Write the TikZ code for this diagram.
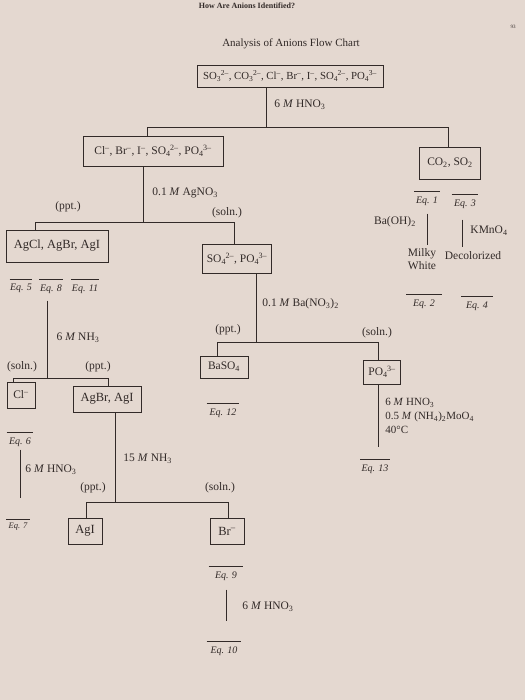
\documentclass[tikz,border=0pt]{standalone}
\usepackage{fontspec}
\setmainfont{Liberation Serif}
\usepackage{xcolor}
\definecolor{paper}{RGB}{228,216,208}
\definecolor{ink}{RGB}{50,42,40}
\usepackage{tikz}
\usetikzlibrary{positioning,calc}
% ion with sub- and superscript
\newcommand{\ion}[3]{#1\textsubscript{#2}\kern-.5pt\textsuperscript{#3}}
\newcommand{\anion}[1]{#1\textsuperscript{--}}

\begin{document}
\begin{tikzpicture}[x=1pt,y=-1pt,ink,line width=.9pt,
  box/.style={draw,font=\fontsize{11.5}{13}\selectfont,inner sep=1pt},
  lbl/.style={font=\fontsize{11.5}{13.5}\selectfont,inner sep=0pt},
  eqn/.style={anchor=north,font=\fontsize{10}{12}\selectfont\itshape,inner xsep=0pt,inner ysep=5pt}]
\useasboundingbox[fill=paper] (0,0) rectangle (525,700);

\node[font=\fontsize{8}{9}\selectfont\bfseries] (head) at (247,6) {How Are Anions Identified?};
\node[font=\fontsize{5}{6}\selectfont] (page) at (513,27) {93};
\node[font=\fontsize{11}{13}\selectfont] (title) at (291,44) {Analysis of Anions Flow Chart};

% boxes
\node[box,minimum width=186pt,minimum height=22pt,font=\fontsize{10.8}{13}\selectfont] (top) at (290,76)
  {\ion{SO}{3}{2--}, \ion{CO}{3}{2--}, \anion{Cl}, \anion{Br}, \anion{I}, \ion{SO}{4}{2--}, \ion{PO}{4}{3--}};
\node[box,minimum width=140pt,minimum height=30pt] (grp) at (153,151)
  {\anion{Cl}, \anion{Br}, \anion{I}, \ion{SO}{4}{2--}, \ion{PO}{4}{3--}};
\node[box,minimum width=61pt,minimum height=32pt] (gas) at (450,163) {CO\textsubscript{2}, SO\textsubscript{2}};
\node[box,minimum width=102pt,minimum height=32pt,font=\fontsize{12.5}{14}\selectfont] (agx) at (57,246) {AgCl, AgBr, AgI};
\node[box,minimum width=69pt,minimum height=29pt] (sp) at (237,259) {\ion{SO}{4}{2--}, \ion{PO}{4}{3--}};
\node[box,minimum width=28pt,minimum height=26pt] (cl) at (21,395) {\anion{Cl}};
\node[box,minimum width=68pt,minimum height=26pt,font=\fontsize{12.5}{14}\selectfont] (agbri) at (107,399) {AgBr, AgI};
\node[box,minimum width=34pt,minimum height=26pt,font=\fontsize{12.5}{14}\selectfont] (agi) at (85,531) {AgI};
\node[box,minimum width=34pt,minimum height=26pt,font=\fontsize{12.5}{14}\selectfont] (br) at (227,531) {\anion{Br}};
\node[box,minimum width=48pt,minimum height=22pt] (baso) at (224,367) {BaSO\textsubscript{4}};
\node[box,minimum width=37pt,minimum height=24pt] (po) at (382,372) {\ion{PO}{4}{3--}};

% branch points
\coordinate (j1) at (266,127); \coordinate (j1l) at (147,127); \coordinate (j1r) at (448,127);
\coordinate (j2) at (143,222); \coordinate (j2l) at (35,222);  \coordinate (j2r) at (234,222);
\coordinate (j3) at (47,378);  \coordinate (j3l) at (13,378);  \coordinate (j3r) at (108,378);
\coordinate (j4) at (115,502); \coordinate (j4l) at (86,502);  \coordinate (j4r) at (228,502);
\coordinate (j5) at (256,342); \coordinate (j5l) at (217,342); \coordinate (j5r) at (378,342);

\draw (top.south -| j1) -- (j1);
\draw (j1l |- grp.north) |- (j1r) -- (j1r |- gas.north);
\draw (grp.south -| j2) -- (j2);
\draw (j2l |- agx.north) |- (j2r) -- (j2r |- sp.north);
\draw (j3l |- cl.north) |- (j3r) -- (j3r |- agbri.north);
\draw (agbri.south -| j4) -- (j4);
\draw (j4l |- agi.north) |- (j4r) -- (j4r |- br.north);
\draw (sp.south -| j5) -- (j5);
\draw (j5l |- baso.north) |- (j5r) -- (j5r |- po.north);

% reagents and fractions
\node[lbl,anchor=west] (hno1) at (274,105) {6 \textit{M} HNO\textsubscript{3}};
\node[lbl,anchor=west] (agno) at (152,193) {0.1 \textit{M} AgNO\textsubscript{3}};
\node[lbl] (ppt1) at (68,207) {(ppt.)};
\node[lbl] (soln1) at (227,213) {(soln.)};
\node[lbl,anchor=west] (bano) at (262,304) {0.1 \textit{M} Ba(NO\textsubscript{3})\textsubscript{2}};
\node[lbl] (ppt2) at (228,330) {(ppt.)};
\node[lbl] (soln2) at (377,333) {(soln.)};
\node[lbl] (nh6) at (78,338) {6 \textit{M} NH\textsubscript{3}};
\node[lbl] (soln3) at (22,367) {(soln.)};
\node[lbl] (ppt3) at (98,367) {(ppt.)};
\node[lbl,anchor=west] (hno2) at (25,470) {6 \textit{M} HNO\textsubscript{3}};
\node[lbl,anchor=west] (nh15) at (123,459) {15 \textit{M} NH\textsubscript{3}};
\node[lbl] (ppt4) at (93,488) {(ppt.)};
\node[lbl] (soln4) at (220,488) {(soln.)};
\node[lbl,anchor=west] (hno3) at (242,607) {6 \textit{M} HNO\textsubscript{3}};
\node[lbl,anchor=north west,align=left,font=\fontsize{11}{14}\selectfont] (molyb) at (385,398)
  {6 \textit{M} HNO\textsubscript{3}\\0.5 \textit{M} (NH\textsubscript{4})\textsubscript{2}MoO\textsubscript{4}\\40°C};
\node[lbl] (baoh) at (395,222) {Ba(OH)\textsubscript{2}};
\node[lbl,anchor=west] (kmno) at (470,231) {KMnO\textsubscript{4}};
\node[lbl,align=center] (milky) at (422,259) {Milky\\White};
\node[lbl] (decol) at (473,256) {Decolorized};

% equation references
\node[eqn,minimum width=25pt] (eq1) at (427,191) {Eq. 1};
\node[eqn,minimum width=26pt] (eq3) at (465,194) {Eq. 3};
\node[eqn,minimum width=35pt] (eq2) at (424,294) {Eq. 2};
\node[eqn,minimum width=31pt] (eq4) at (477,296) {Eq. 4};
\node[eqn,minimum width=22pt] (eq5) at (21,279) {Eq. 5};
\node[eqn,minimum width=23pt] (eq8) at (51,279) {Eq. 8};
\node[eqn,minimum width=26pt] (eq11) at (85,279) {Eq. 11};
\node[eqn,minimum width=26pt] (eq6) at (20,432) {Eq. 6};
\node[eqn,minimum width=23pt,font=\fontsize{8.5}{10}\selectfont\itshape,inner ysep=3pt] (eq7) at (18,519) {Eq. 7};
\node[eqn,minimum width=32pt] (eq12) at (223,403) {Eq. 12};
\node[eqn,minimum width=29pt] (eq13) at (375,459) {Eq. 13};
\node[eqn,minimum width=34pt] (eq9) at (226,566) {Eq. 9};
\node[eqn,minimum width=34pt] (eq10) at (224,641) {Eq. 10};
\foreach \e in {eq1,eq3,eq2,eq4,eq5,eq8,eq11,eq6,eq7,eq12,eq13,eq9,eq10}
  \draw (\e.north west) -- (\e.north east);

\draw[shorten <=3pt,shorten >=3pt] (eq1.south) -- (eq1.south |- milky.north);
\draw[shorten <=6pt,shorten >=5pt] ([xshift=-3pt]eq3.south) -- ([xshift=-3pt]eq3.south |- decol.north);
\draw[shorten <=2pt] (eq8.south -| j3) -- (j3);
\draw[shorten <=-2pt,shorten >=21pt] (eq6.south) -- (eq6.south |- eq7.north);
\draw[shorten >=12pt] (po.south -| j5r) -- (j5r |- eq13.north);
\draw[shorten <=4pt,shorten >=20pt] (eq9.south) -- (eq9.south |- eq10.north);

\end{tikzpicture}
\end{document}
